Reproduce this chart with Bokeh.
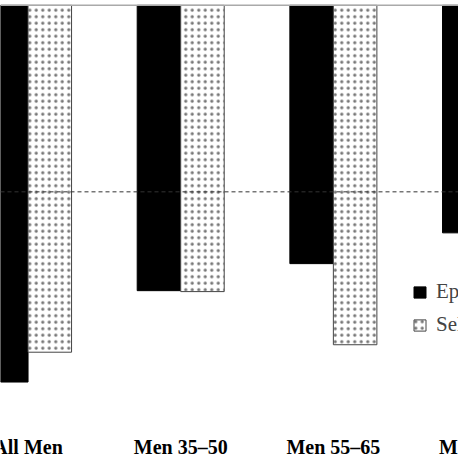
from bokeh.core.properties import value
from bokeh.embed import file_html
from bokeh.models import ColumnDataSource, Legend, LegendItem, Range1d, Span
from bokeh.plotting import figure
from bokeh.resources import INLINE
from bokeh.transform import dodge

# groups along the x axis, the last one runs off the right edge
groups = ["All Men", "Men 35\u201350", "Men 55\u201365", "Men 65\u201375"]
# bars hang down from the zero line at the top
epi_values = [-40.4, -30.6, -27.7, -24.4]
self_values = [-37.2, -30.7, -36.4, -30.0]
reference_level = -20.0
series_names = ["Epidemiological", "Self-reported"]

bar_w = 0.285
idx = list(range(len(groups)))

src = ColumnDataSource(dict(
    x=idx,
    epi=epi_values,
    self_r=self_values,
    zero=[0.0] * len(groups),
    name=groups,
    label_y=[-47.4] * len(groups),
))

p = figure(width=458, height=458, output_backend="svg", toolbar_location=None,
           x_range=Range1d(-0.1804, 2.8196), y_range=Range1d(-48.6, 0.52),
           min_border=0)
p.axis.visible = False
p.grid.visible = False
p.outline_line_color = None
p.background_fill_color = "white"

# two series either side of the group centre
black = p.vbar(x=dodge("x", -bar_w / 2, range=p.x_range), top="zero", bottom="epi",
               width=bar_w, source=src, fill_color="black", line_color="black", line_width=1)

dotted = p.vbar(x=dodge("x", bar_w / 2, range=p.x_range), top="zero", bottom="self_r",
                width=bar_w, source=src, fill_color="white", line_color="#444444",
                line_width=1, hatch_pattern="dot", hatch_scale=6.5, hatch_color="#777777",
                hatch_weight=1)

# thin zero line at the top and the dashed reference level
p.add_layout(Span(location=0, dimension="width", line_color="#aaaaaa", line_width=1.5))
p.add_layout(Span(location=reference_level, dimension="width", line_color="#333333",
                  line_width=1, line_dash="4 3"))

p.text(x="x", y="label_y", text="name", source=src, text_align="center",
       text_baseline="alphabetic", text_font=value("Liberation Serif"),
       text_font_style="bold", text_font_size="20px", text_color="black")

legend = Legend(items=[LegendItem(label=series_names[0], renderers=[black]),
                       LegendItem(label=series_names[1], renderers=[dotted])],
                location=(412, 121), orientation="vertical",
                glyph_width=15, glyph_height=14, label_height=20, spacing=8,
                padding=0, margin=0, label_standoff=9,
                label_text_font="Liberation Serif", label_text_font_size="21px",
                border_line_alpha=0, background_fill_alpha=0)
p.add_layout(legend)

open("out.html", "w").write(file_html(p, INLINE))
